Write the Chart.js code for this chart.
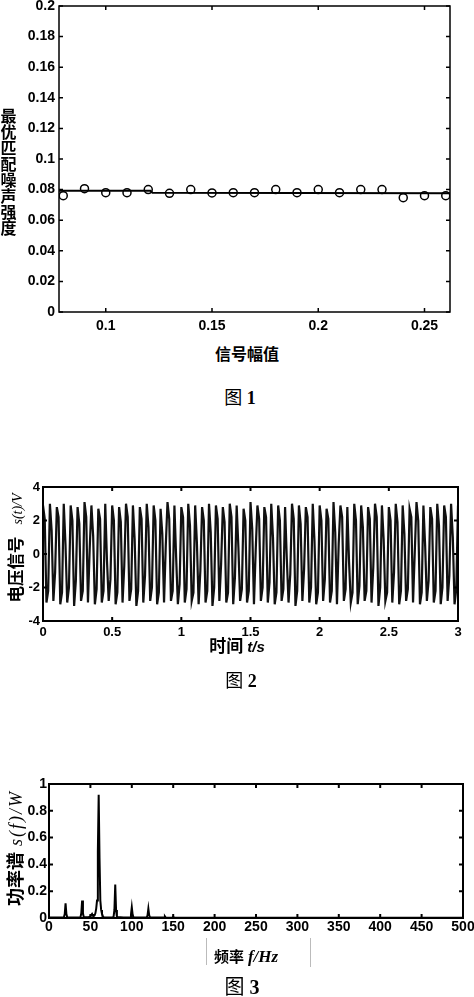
<!DOCTYPE html>
<html>
<head>
<meta charset="utf-8">
<script src="https://cdn.jsdelivr.net/npm/chart.js@4.4.1/dist/chart.umd.min.js"></script>
<style>
    html, body { margin: 0; padding: 0; background: #fff; overflow: hidden; }
    #page { position: relative; width: 474px; height: 997px; overflow: hidden; background: #fff; }
    canvas { position: absolute; left: 0; }
    .txt { position: absolute; white-space: nowrap; color: #000; line-height: 1; }
    .cjk { font-family: "Noto Sans CJK SC", sans-serif; font-weight: bold; }
    .ital { font-family: "Liberation Serif", "Times New Roman", serif; font-style: italic; }
    .ctr { transform: translate(-50%, -50%); }
    .rot { transform: translate(-50%, -50%) rotate(-90deg); }
    .vline { position: absolute; width: 0; border-left: 1px solid #bbb; }
</style>
</head>
<body>
<div id="page">
    <canvas id="chart1" width="474" height="350" style="top:-10px"></canvas>
    <canvas id="chart2" width="474" height="175" style="top:470px"></canvas>
    <canvas id="chart3" width="490" height="175" style="top:770px"></canvas>

    <!-- figure 1 texts -->
    <div class="txt cjk" style="left:0;top:107px;width:17px;text-align:center;font-size:16px;line-height:16px;white-space:normal;">最<br>优<br>匹<br>配<br>噪<br>声<br>强<br>度</div>
    <div class="txt cjk ctr" style="left:247px;top:353px;font-size:16px;">信号幅值</div>
    <div class="txt ctr" style="left:240px;top:397px;font-size:18px;"><span style="font-family:'Noto Sans CJK SC'">图</span> <span style="font-family:'Liberation Serif';font-weight:bold">1</span></div>

    <!-- figure 2 texts -->
    <div class="txt rot" style="left:16px;top:548px;"><span class="cjk" style="font-size:16.5px">电压信号</span><span class="ital" style="font-size:14px;margin-left:12px">s(t)/V</span></div>
    <div class="txt ctr" style="left:237px;top:645px;"><span class="cjk" style="font-size:17px">时间</span> <span style="font-family:'Liberation Sans';font-style:italic;font-weight:bold;font-size:15px">t/s</span></div>
    <div class="txt ctr" style="left:241px;top:680px;font-size:18px;"><span style="font-family:'Noto Sans CJK SC'">图</span> <span style="font-family:'Liberation Serif';font-weight:bold">2</span></div>

    <!-- figure 3 texts -->
    <div class="txt rot" style="left:15px;top:848px;"><span class="cjk" style="font-size:18px">功率谱</span><span class="ital" style="font-size:18px;letter-spacing:2px;margin-left:6px">s(f)/W</span></div>
    <div class="vline" style="left:206px;top:938px;height:27px"></div>
    <div class="vline" style="left:310px;top:938px;height:29px"></div>
    <div class="txt ctr" style="left:246px;top:956px;"><span class="cjk" style="font-size:15px">频率</span> <span class="ital" style="font-weight:bold;font-size:17px">f/Hz</span></div>
    <div class="txt ctr" style="left:242px;top:986px;font-size:20px;"><span style="font-family:'Noto Sans CJK SC'">图</span> <span style="font-family:'Liberation Serif';font-weight:bold">3</span></div>
</div>

<script>
// ---------- figure 1: optimal matched noise vs signal amplitude ----------
const amplitudes = [0.08, 0.09, 0.10, 0.11, 0.12, 0.13, 0.14, 0.15, 0.16, 0.17,
                    0.18, 0.19, 0.20, 0.21, 0.22, 0.23, 0.24, 0.25, 0.26];
const noiseLevels = [0.076, 0.0806, 0.078, 0.078, 0.080, 0.0776, 0.080, 0.0778, 0.078, 0.078,
                     0.080, 0.078, 0.080, 0.078, 0.080, 0.080, 0.0747, 0.076, 0.076];
const fitX = [0.078, 0.121, 0.122, 0.262];
const fitY = [0.0793, 0.0793, 0.0779, 0.0776];
const fig1XTicks = [0.1, 0.15, 0.2, 0.25];
const fig1YTicks = [0, 0.02, 0.04, 0.06, 0.08, 0.1, 0.12, 0.14, 0.16, 0.18, 0.2];

// ---------- figure 2: voltage signal s(t) ----------
const SAMPLE_DT = 0.0125; // seconds between samples
const signalValues = [
    2.9, 2.1, -2.9, -2.2, 3.0, 1.4, -2.8, -1.1, 2.8, 2.2, -3.0, -2.3, 3.0, 0.6, -2.9, -2.0,
    2.9, 2.0, -3.1, -1.6, 2.8, 1.8, -2.8, -2.2, 3.1, 2.2, -2.9, 0.3, 2.9, 1.1, -3.0, -2.1,
    2.7, 2.1, -2.9, -2.2, 3.0, -0.4, -2.8, -1.5, 2.9, 2.0, -3.0, -2.3, 2.8, 1.9, -2.9, -0.7,
    3.0, 2.2, -2.8, -2.1, 2.9, 0.9, -3.1, -2.2, 2.8, 2.1, -2.9, -1.3, 3.0, 1.6, -2.8, -2.0,
    2.9, 2.0, -3.0, -2.3, 2.7, 1.2, -2.9, 0.5, 3.1, 2.1, -2.8, -2.2, 2.9, -0.2, -3.0, -1.8,
    2.8, 2.2, -2.9, -2.1, 3.0, 1.7, -2.8, -2.3, 2.9, 0.7, -3.0, -1.0, 2.8, 2.0, -2.9, -2.2,
    3.0, 1.3, -3.1, -2.0, 2.9, 2.1, -2.8, -0.6, 2.8, 1.9, -2.9, -2.3, 3.0, 2.2, -3.0, -1.4,
    2.9, 0.4, -2.8, -2.1, 2.7, 2.0, -2.9, -2.2, 3.1, 1.5, -3.0, 0.2, 2.9, 2.1, -2.8, -2.0,
    2.8, 2.2, -2.9, -1.7, 3.0, 1.0, -3.0, -2.3, 2.9, 2.0, -2.8, -2.1, 2.8, -0.3, -2.9, -1.2,
    3.0, 2.1, -3.1, -2.2, 2.9, 1.8, -2.8, -0.9, 2.8, 2.2, -2.9, -2.0, 3.0, 0.8, -3.0, -2.3,
    2.9, 2.0, -2.8, -1.5, 2.7, 2.1, -2.9, -2.2, 3.1, 1.3, -3.0, 0.6, 2.9, 2.2, -2.8, -2.1,
    2.8, -0.5, -2.9, -2.3, 3.0, 2.0, -3.0, -1.9, 2.9, 1.6, -2.8, -2.2, 2.8, 2.1, -2.9, -0.8,
    3.0, 2.2, -3.1, -2.0, 2.9, 0.9, -2.8, -2.3, 2.8, 2.0, -2.9, -1.1, 3.0, 1.9, -3.0, -2.2,
    2.9, 1.2, -2.8, -2.1, 2.7, 2.2, -2.9, 0.1, 3.1, 2.0, -3.0, -2.3, 2.9, 0.5, -2.8, -1.6,
    2.8, 2.1, -2.9, -2.2, 3.0, 1.7, -3.0, -2.0, 2.9, 2.2, -2.8, -1.3, 3.0, 1.0, -3.0, -2.1, 2.9
];
const fig2XTicks = [0, 0.5, 1, 1.5, 2, 2.5, 3];
const fig2YTicks = [-4, -2, 0, 2, 4];

// ---------- figure 3: power spectrum s(f) ----------
const freqs = [0, 10, 18, 19, 20, 21, 22, 30, 38, 39, 40, 41, 42, 48, 50, 51, 52, 53, 54,
               55, 56, 57, 58, 59, 60, 61, 62, 63, 64, 65, 66, 70, 77, 78, 79, 80, 81, 82,
               90, 98, 99, 100, 101, 102, 110, 118, 119, 120, 121, 122, 130, 139, 140, 141,
               149, 150, 151, 160, 200, 300, 400, 500];
const power = [0.003, 0.004, 0.005, 0.03, 0.11, 0.03, 0.005, 0.004, 0.006, 0.035, 0.13, 0.035, 0.006, 0.006, 0.012, 0.022, 0.03, 0.018, 0.015,
               0.02, 0.035, 0.07, 0.13, 0.5, 0.92, 0.45, 0.13, 0.06, 0.03, 0.015, 0.006, 0.004, 0.005, 0.01, 0.06, 0.25, 0.06, 0.008,
               0.004, 0.005, 0.025, 0.08, 0.025, 0.005, 0.004, 0.004, 0.02, 0.07, 0.02, 0.004, 0.003, 0.003, 0.012, 0.003,
               0.002, 0.01, 0.002, 0.002, 0.002, 0.002, 0.002, 0.002];
const fig3XTicks = [0, 50, 100, 150, 200, 250, 300, 350, 400, 450, 500];
const fig3YTicks = [0, 0.2, 0.4, 0.6, 0.8, 1];

// ==========================================
// MATLAB-like box with inward tick marks
// ==========================================
const insideTicks = {
    id: 'insideTicks',
    afterDraw(chart, args, opts) {
        const { ctx, chartArea: a, scales } = chart;
        const len = opts.length || 4;
        ctx.save();
        ctx.strokeStyle = '#000';
        ctx.lineWidth = opts.width || 1;
        ctx.strokeRect(a.left, a.top, a.right - a.left, a.bottom - a.top);
        ctx.beginPath();
        scales.x.ticks.forEach(t => {
            const px = scales.x.getPixelForValue(t.value);
            ctx.moveTo(px, a.bottom); ctx.lineTo(px, a.bottom - len);
            ctx.moveTo(px, a.top); ctx.lineTo(px, a.top + len);
        });
        scales.y.ticks.forEach(t => {
            const py = scales.y.getPixelForValue(t.value);
            ctx.moveTo(a.left, py); ctx.lineTo(a.left + len, py);
            ctx.moveTo(a.right, py); ctx.lineTo(a.right - len, py);
        });
        ctx.stroke();
        ctx.restore();
    }
};

function fixedTicks(list) {
    return scale => { scale.ticks = list.map(v => ({ value: v })); };
}

function fmt(v) {
    return String(Math.round(v * 1000) / 1000);
}

function axes(opts) {
    return {
        x: {
            type: 'linear',
            min: opts.xMin, max: opts.xMax,
            afterBuildTicks: fixedTicks(opts.xTicks),
            afterFit: s => { s.height = opts.xHeight; },
            grid: { display: false, drawTicks: false },
            border: { display: false },
            ticks: { color: '#000', padding: opts.xPad, maxRotation: 0, autoSkip: false,
                     font: opts.font, callback: fmt }
        },
        y: {
            type: 'linear',
            min: opts.yMin, max: opts.yMax,
            afterBuildTicks: fixedTicks(opts.yTicks),
            afterFit: s => { s.width = opts.yWidth; },
            grid: { display: false, drawTicks: false },
            border: { display: false },
            ticks: { color: '#000', padding: opts.yPad, autoSkip: false,
                     font: opts.font, callback: fmt }
        }
    };
}

const common = {
    responsive: false,
    animation: false,
    devicePixelRatio: 1,
    plugins: { legend: { display: false }, tooltip: { enabled: false } }
};

// ---------- figure 1 ----------
new Chart(document.getElementById('chart1'), {
    type: 'scatter',
    data: {
        datasets: [{
            type: 'line',
            data: fitX.map((x, i) => ({ x: x, y: fitY[i] })),
            borderColor: '#000',
            borderWidth: 2,
            pointRadius: 0,
            tension: 0
        }, {
            data: amplitudes.map((x, i) => ({ x: x, y: noiseLevels[i] })),
            pointStyle: 'circle',
            pointRadius: 4,
            pointBorderWidth: 1.5,
            pointBorderColor: '#000',
            pointBackgroundColor: 'rgba(0,0,0,0)'
        }]
    },
    options: Object.assign({}, common, {
        layout: { padding: { left: 0, top: 16, right: 24, bottom: 0 } },
        scales: axes({
            xMin: 0.078, xMax: 0.262, xTicks: fig1XTicks, xHeight: 28, xPad: 6,
            yMin: 0, yMax: 0.2, yTicks: fig1YTicks, yWidth: 59, yPad: 4,
            font: { family: 'Liberation Sans, Arial, sans-serif', size: 14, weight: 'bold' }
        }),
        plugins: Object.assign({}, common.plugins, { insideTicks: { length: 4, width: 1.5 } })
    }),
    plugins: [insideTicks]
});

// ---------- figure 2 ----------
new Chart(document.getElementById('chart2'), {
    type: 'line',
    data: {
        datasets: [{
            data: signalValues.map((v, i) => ({ x: i * SAMPLE_DT, y: v })),
            borderColor: '#111',
            borderWidth: 2.2,
            pointRadius: 0,
            tension: 0
        }]
    },
    options: Object.assign({}, common, {
        layout: { padding: { left: 0, top: 17, right: 16, bottom: 0 } },
        scales: axes({
            xMin: 0, xMax: 3, xTicks: fig2XTicks, xHeight: 24, xPad: 4,
            yMin: -4, yMax: 4, yTicks: fig2YTicks, yWidth: 43, yPad: 3,
            font: { family: 'Liberation Sans, Arial, sans-serif', size: 13, weight: 'bold' }
        }),
        plugins: Object.assign({}, common.plugins, { insideTicks: { length: 4, width: 2 } })
    }),
    plugins: [insideTicks]
});

// ---------- figure 3 ----------
new Chart(document.getElementById('chart3'), {
    type: 'line',
    data: {
        datasets: [{
            data: freqs.map((f, i) => ({ x: f, y: power[i] })),
            borderColor: '#000',
            borderWidth: 2,
            pointRadius: 0,
            tension: 0
        }]
    },
    options: Object.assign({}, common, {
        layout: { padding: { left: 0, top: 14, right: 27, bottom: 0 } },
        scales: axes({
            xMin: 0, xMax: 500, xTicks: fig3XTicks, xHeight: 27, xPad: 1,
            yMin: 0, yMax: 1, yTicks: fig3YTicks, yWidth: 49, yPad: 2,
            font: { family: 'Liberation Sans, Arial, sans-serif', size: 14, weight: 'bold' }
        }),
        plugins: Object.assign({}, common.plugins, { insideTicks: { length: 4, width: 2 } })
    }),
    plugins: [insideTicks]
});
</script>
</body>
</html>
